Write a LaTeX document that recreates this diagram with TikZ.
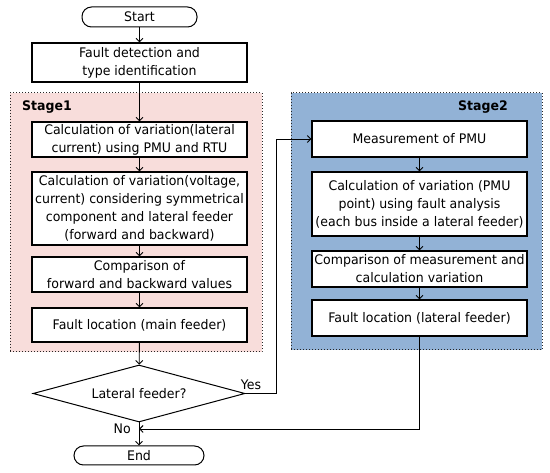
\documentclass[tikz,border=0pt]{standalone}
\usepackage{fontspec}
\setmainfont{DejaVu Sans}[FakeStretch=0.95]
\usetikzlibrary{shapes.geometric,arrows.meta}
\definecolor{pinkc}{RGB}{248,221,219}
\definecolor{bluec}{RGB}{146,178,214}
\begin{document}
\begin{tikzpicture}[x=1pt,y=-1pt,
  font=\fontsize{13.2}{18}\selectfont,
  procbox/.style={draw=black, line width=1.2pt, fill=white, align=center, inner sep=0pt, minimum width=215pt},
  termbox/.style={draw=black, line width=1pt, fill=white, rounded corners=9.5pt, inner sep=0pt},
  decbox/.style={draw=black, line width=1pt, fill=white, diamond, aspect=3.7, inner sep=0pt, minimum width=212pt, minimum height=57pt},
  stagebox/.style={draw=black!85, dotted, line width=1pt, inner sep=0pt},
  conn/.style={draw=black, line width=0.9pt, -{Straight Barb[length=3.5pt,width=7pt]}},
  stagelabel/.style={font=\fontsize{13.2}{16}\bfseries\selectfont, inner sep=0pt}
]
\useasboundingbox (0,0) rectangle (550,473);
\fill[white] (0,0) rectangle (550,473);

% stage regions
\node[stagebox, fill=pinkc, minimum width=252pt, minimum height=259pt] (s1) at (136,222.5) {};
\node[stagebox, fill=bluec, minimum width=251pt, minimum height=257pt] (s2) at (416.5,221.5) {};
\node[stagelabel, anchor=west] (l1) at (22,107) {Stage1};
\node[stagelabel, anchor=east] (l2) at (508,107) {Stage2};

% main column
\node[termbox, minimum width=115pt, minimum height=20pt] (start) at (139.5,17) {Start};
\node[procbox, minimum height=39pt] (fd) at (139.5,62.5) {Fault detection and\\type identification};
\node[procbox, minimum height=35pt] (a1) at (139.5,139.5) {Calculation of variation(lateral\\current) using PMU and RTU};
\node[procbox, minimum height=73pt] (a2) at (139.5,208.5) {Calculation of variation(voltage,\\current) considering symmetrical\\component and lateral feeder\\(forward and backward)};
\node[procbox, minimum height=35pt] (a3) at (139.5,274.5) {Comparison of\\forward and backward values};
\node[procbox, minimum height=34pt] (a4) at (139.5,325) {Fault location (main feeder)};
\node[decbox] (dec) at (139,393.5) {Lateral feeder?};
\node[termbox, minimum width=130pt, minimum height=19pt] (end) at (139,455.5) {End};

% stage 2 column
\node[procbox, minimum height=36pt] (b1) at (419.5,139) {Measurement of PMU};
\node[procbox, minimum height=64pt] (b2) at (419.5,204) {Calculation of variation (PMU\\point) using fault analysis\\(each bus inside a lateral feeder)};
\node[procbox, minimum height=36pt] (b3) at (419.5,269) {Comparison of measurement and\\calculation variation};
\node[procbox, minimum height=36pt] (b4) at (419.5,318) {Fault location (lateral feeder)};

% connectors
\draw[conn] (start) -- (fd);
\draw[conn] (fd) -- (a1);
\draw[conn] (a1) -- (a2);
\draw[conn] (a2) -- (a3);
\draw[conn] (a3) -- (a4);
\draw[conn] (a4) -- (dec);
\draw[conn] (dec) -- (end);
\draw[conn] (b1) -- (b2);
\draw[conn] (b2) -- (b3);
\draw[conn] (b3) -- (b4);

\coordinate (yc) at (276,393.5);
\coordinate (mg) at (139,429);
\draw[conn] (dec.east) -- (yc) |- (b1.west);
\draw[conn] (b4.south) |- (mg);

\node[inner sep=0pt] (yes) at (251,385) {Yes};
\node[inner sep=0pt, anchor=east] (no) at (131,429) {No};
\end{tikzpicture}
\end{document}
